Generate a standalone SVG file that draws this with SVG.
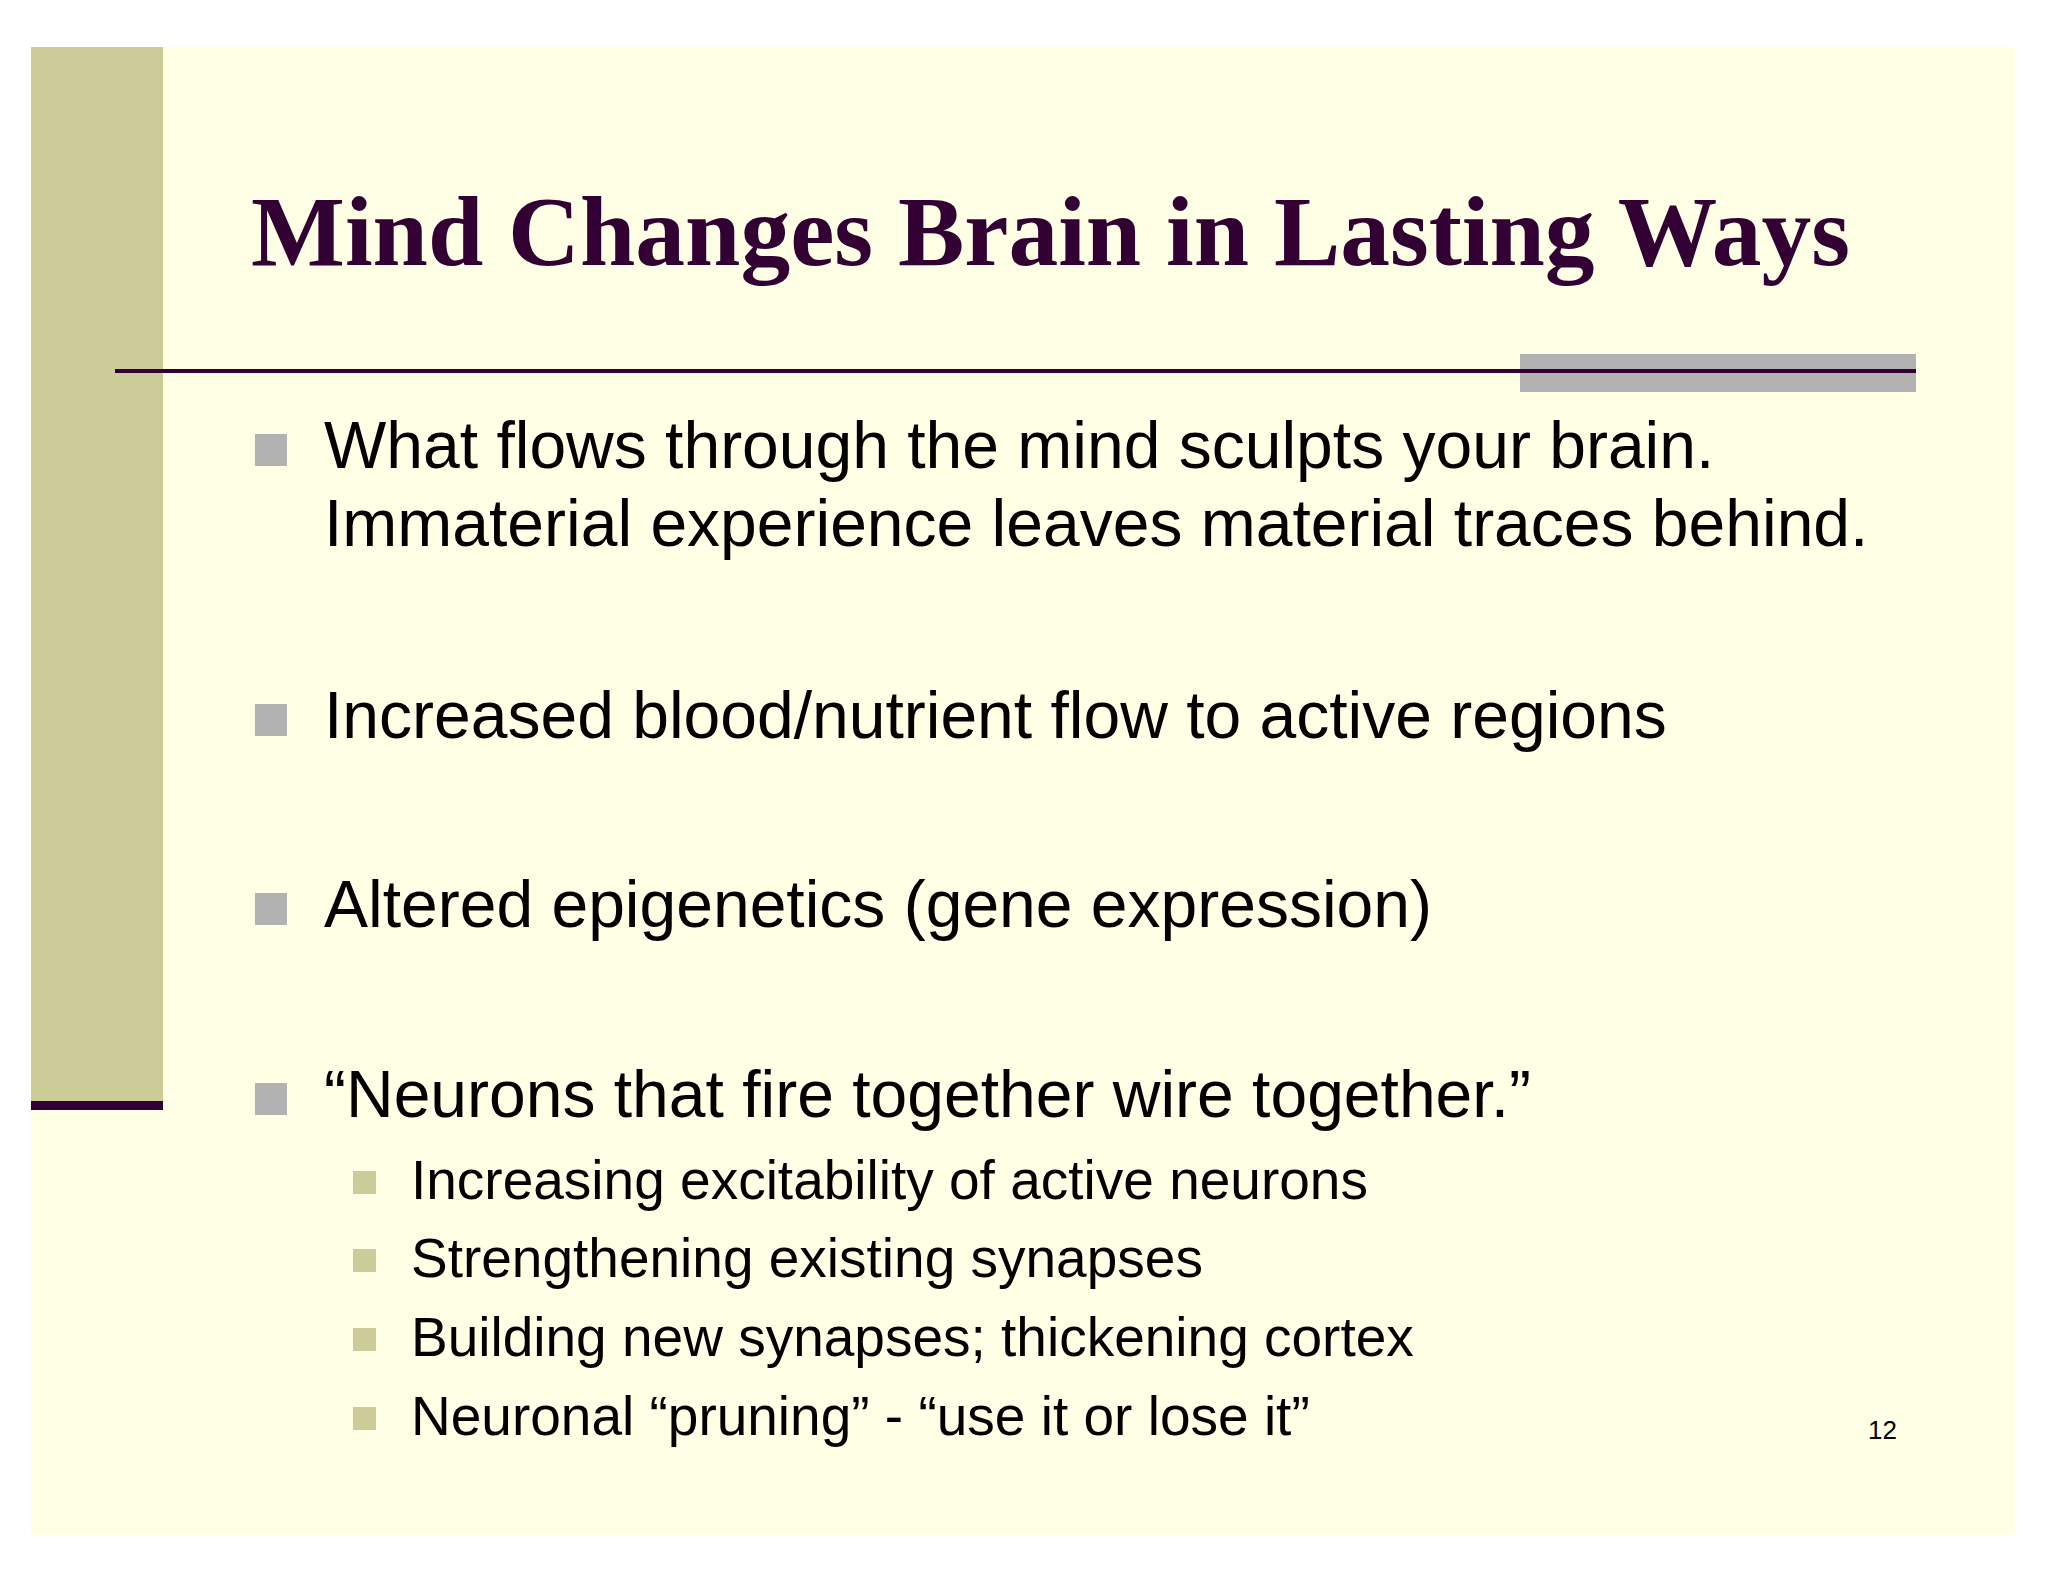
<svg xmlns="http://www.w3.org/2000/svg" width="2048" height="1582" viewBox="0 0 2048 1582">
<style>
.b{font-family:"Liberation Sans",Arial,sans-serif;font-size:66px;fill:#000}
.s{font-family:"Liberation Sans",Arial,sans-serif;font-size:55px;fill:#000}
.bq{fill:#B2B2B2}
.sq{fill:#CCCC99}
</style>
<rect width="2048" height="1582" fill="#fff"/>
<rect x="31" y="47" width="1984" height="1488" fill="#FFFFE5"/>
<rect x="31" y="47" width="132" height="1054" fill="#CCCC99"/>
<rect x="31" y="1101" width="132" height="9" fill="#330033"/>
<text x="251" y="265" font-family="'Liberation Serif','Times New Roman',serif" font-weight="bold" font-size="99.5" fill="#330033">Mind Changes Brain in Lasting Ways</text>
<rect x="1520" y="354" width="396" height="38" fill="#B2B2B2"/>
<line x1="115" y1="371" x2="1916" y2="371" stroke="#330033" stroke-width="4"/>
<g id="bullets">
<rect class="bq" x="255" y="434" width="32" height="32"/>
<text class="b" x="324" y="468">What flows through the mind sculpts your brain.</text>
<text class="b" x="324" y="546">Immaterial experience leaves material traces behind.</text>
<rect class="bq" x="255" y="704" width="32" height="32"/>
<text class="b" x="324" y="738">Increased blood/nutrient flow to active regions</text>
<rect class="bq" x="255" y="893" width="32" height="32"/>
<text class="b" x="324" y="927">Altered epigenetics (gene expression)</text>
<rect class="bq" x="255" y="1083" width="32" height="32"/>
<text class="b" x="324" y="1117">“Neurons that fire together wire together.”</text>
<rect class="sq" x="353" y="1171" width="23" height="23"/>
<text class="s" x="411" y="1199">Increasing excitability of active neurons</text>
<rect class="sq" x="353" y="1249" width="23" height="23"/>
<text class="s" x="411" y="1277">Strengthening existing synapses</text>
<rect class="sq" x="353" y="1328" width="23" height="23"/>
<text class="s" x="411" y="1356">Building new synapses; thickening cortex</text>
<rect class="sq" x="353" y="1407" width="23" height="23"/>
<text class="s" x="411" y="1435">Neuronal “pruning” - “use it or lose it”</text>
</g>
<text x="1868" y="1439" font-family="'Liberation Sans',Arial,sans-serif" font-size="26" fill="#000">12</text>
</svg>
